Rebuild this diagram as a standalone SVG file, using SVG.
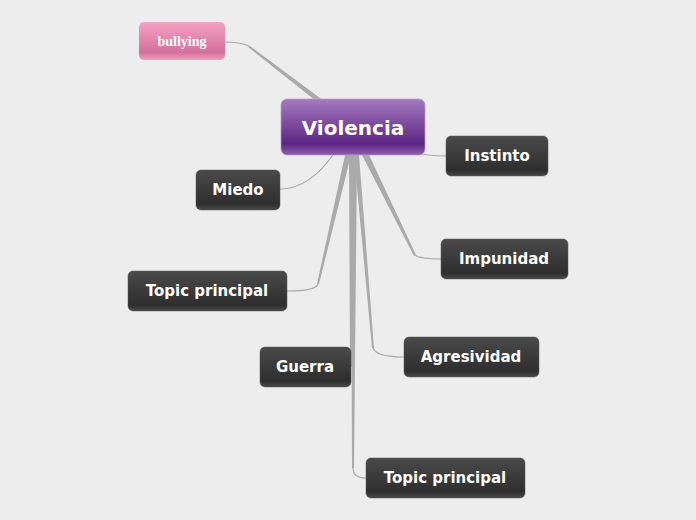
<svg xmlns="http://www.w3.org/2000/svg" width="696" height="520" viewBox="0 0 696 520">
<defs>
<linearGradient id="dk" x1="0" y1="0" x2="0" y2="1"><stop offset="0" stop-color="#4a4a4a"/><stop offset="0.85" stop-color="#2e2e2e"/><stop offset="1" stop-color="#4a4a4a"/></linearGradient>
<linearGradient id="pu" x1="0" y1="0" x2="0" y2="1"><stop offset="0" stop-color="#a57bbf"/><stop offset="0.8" stop-color="#5c2583"/><stop offset="1" stop-color="#8e5fae"/></linearGradient>
<linearGradient id="pk" x1="0" y1="0" x2="0" y2="1"><stop offset="0" stop-color="#f4a3c3"/><stop offset="0.8" stop-color="#d5709a"/><stop offset="1" stop-color="#ef9fc0"/></linearGradient>
<style>
.n{fill:url(#dk);stroke:#555;stroke-width:0.5}
.t{fill:#fff;font-family:"DejaVu Sans",sans-serif;font-weight:bold;font-size:15px;text-anchor:middle}
.c{fill:none;stroke:#aaa;stroke-width:1.2}
.w{fill:#aaa;stroke:none}
</style>
</defs>
<rect width="696" height="520" fill="#ededed"/>
<g id="connectors">
<polygon class="w" points="316,101 324,101 250,46 248,47"/><path class="c" d="M249,46 Q240,42 225,42"/>
<path class="c" d="M418,153 Q428,156 446,156"/>
<path class="c" d="M335,152 Q310,189 280,189"/>
<polygon class="w" points="362,155 369,155 416,255 414,256"/><path class="c" d="M415,255 Q420,259 441,259"/>
<polygon class="w" points="345,155 351,155 319,284 317,284"/><path class="c" d="M318,284 Q316,291 287,291"/>
<polygon class="w" points="354,155 359,155 374,348 372,348"/><path class="c" d="M373,348 Q376,357 404,357"/>
<polygon class="w" points="349,155 355,155 352,367 350,367"/>
<polygon class="w" points="351,155 357,155 354,468 352,468"/><path class="c" d="M353,468 Q353,478 366,478"/>
</g>
<g id="bullying"><rect x="139" y="22" width="86" height="38" rx="5" fill="url(#pk)"/><text x="182" y="46" style="fill:#fff;font-family:'Liberation Serif',serif;font-weight:bold;font-size:14px;text-anchor:middle">bullying</text></g>
<g id="violencia"><rect x="281" y="99" width="144" height="56" rx="6" fill="url(#pu)" stroke="#b59acb" stroke-width="0.8"/><text x="353" y="135" class="t" style="font-size:20px">Violencia</text></g>
<g id="instinto"><rect class="n" x="446" y="136" width="102" height="40" rx="5"/><text class="t" x="497" y="161">Instinto</text></g>
<g id="miedo"><rect class="n" x="196" y="170" width="84" height="40" rx="5"/><text class="t" x="238" y="195">Miedo</text></g>
<g id="impunidad"><rect class="n" x="441" y="239" width="127" height="40" rx="5"/><text class="t" x="504" y="264">Impunidad</text></g>
<g id="topic1"><rect class="n" x="128" y="271" width="159" height="40" rx="5"/><text class="t" x="207" y="296">Topic principal</text></g>
<g id="agresividad"><rect class="n" x="404" y="337" width="135" height="40" rx="5"/><text class="t" x="471" y="362">Agresividad</text></g>
<g id="guerra"><rect class="n" x="260" y="347" width="91" height="40" rx="5"/><text class="t" x="305" y="372">Guerra</text></g>
<g id="topic2"><rect class="n" x="366" y="458" width="159" height="40" rx="5"/><text class="t" x="445" y="483">Topic principal</text></g>
</svg>
